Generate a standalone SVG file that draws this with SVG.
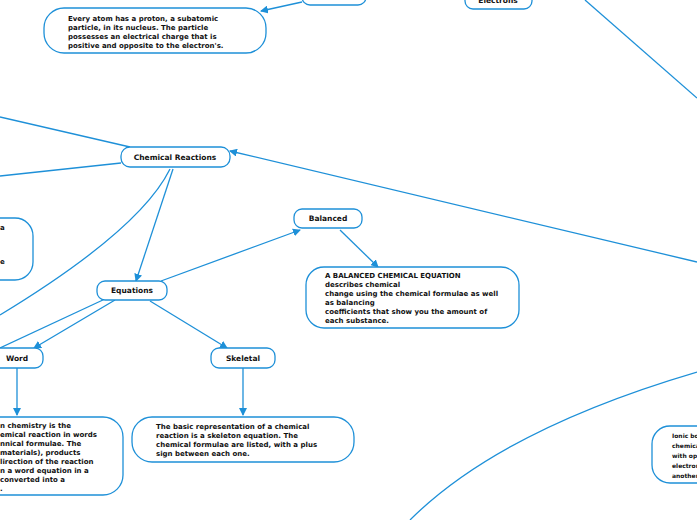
<svg xmlns="http://www.w3.org/2000/svg" width="697" height="520" viewBox="0 0 697 520">
<defs><marker id="a" markerWidth="8" markerHeight="8" refX="7" refY="4" orient="auto" markerUnits="userSpaceOnUse"><path d="M0,0 L8,4 L0,8 z" fill="#1e90d8"/></marker></defs>
<style>
.n{fill:#fff;stroke:#1e90d8;stroke-width:1.3}
.c{fill:none;stroke:#1e90d8;stroke-width:1.3}
text{font-family:Verdana,"DejaVu Sans",sans-serif;font-weight:bold;font-size:7px;fill:#111}
.l{font-size:7.5px}
</style>
<g id="connectors">
<path class="c" d="M302,2 L261,11" marker-end="url(#a)"/>
<path class="c" d="M585,0 L697,98"/>
<path class="c" d="M130,147 L0,117"/>
<path class="c" d="M121,163 L0,176"/>
<path class="c" d="M697,262 L230,151" marker-end="url(#a)"/>
<path class="c" d="M170,169 Q140,230 0,315"/>
<path class="c" d="M173,169 L136,281" marker-end="url(#a)"/>
<path class="c" d="M161,281 L300,230" marker-end="url(#a)"/>
<path class="c" d="M340,230 L378,267" marker-end="url(#a)"/>
<path class="c" d="M105,299 L0,348"/>
<path class="c" d="M115,300 L34,348" marker-end="url(#a)"/>
<path class="c" d="M150,301 L227,348" marker-end="url(#a)"/>
<path class="c" d="M17,368 L17,415" marker-end="url(#a)"/>
<path class="c" d="M243,368 L243,415" marker-end="url(#a)"/>
<path class="c" d="M697,372 Q500,430 410,520"/>
</g>
<g id="n-proton"><rect class="n" x="302" y="-12" width="64" height="17" rx="8"/></g>
<g id="n-electrons"><rect class="n" x="465" y="-10" width="67" height="19" rx="8"/><text x="498" y="3" text-anchor="middle" class="l">Electrons</text></g>
<g id="n-protondesc"><rect class="n" x="44" y="8" width="222" height="45" rx="20"/>
<text x="68" y="21">Every atom has a proton, a subatomic</text><text x="68" y="30">particle, in its nucleus. The particle</text><text x="68" y="39">possesses an electrical charge that is</text><text x="68" y="48">positive and opposite to the electron's.</text></g>
<g id="n-chem"><rect class="n" x="121" y="147" width="109" height="20" rx="9"/><text x="175" y="160" text-anchor="middle" class="l">Chemical Reactions</text></g>
<g id="n-left"><rect class="n" x="-30" y="218" width="63" height="62" rx="18"/><text x="0" y="230">a</text><text x="0" y="264">e</text></g>
<g id="n-balanced"><rect class="n" x="294" y="209" width="68" height="19" rx="8"/><text x="328" y="221" text-anchor="middle" class="l">Balanced</text></g>
<g id="n-baldesc"><rect class="n" x="306" y="267" width="213" height="61" rx="18"/>
<text x="325" y="278">A BALANCED CHEMICAL EQUATION</text><text x="325" y="287">describes chemical</text><text x="325" y="296">change using the chemical formulae as well</text><text x="325" y="305">as balancing</text><text x="325" y="314">coefficients that show you the amount of</text><text x="325" y="323">each substance.</text></g>
<g id="n-eq"><rect class="n" x="97" y="281" width="70" height="19" rx="8"/><text x="132" y="293" text-anchor="middle" class="l">Equations</text></g>
<g id="n-word"><rect class="n" x="-20" y="348" width="63" height="20" rx="8"/><text x="17" y="361" text-anchor="middle" class="l">Word</text></g>
<g id="n-skel"><rect class="n" x="211" y="348" width="64" height="20" rx="8"/><text x="243" y="361" text-anchor="middle" class="l">Skeletal</text></g>
<g id="n-worddesc"><rect class="n" x="-60" y="417" width="183" height="78" rx="20"/>
<text x="0" y="428">n chemistry is the</text><text x="0" y="437">emical reaction in words</text><text x="0" y="446">nnical formulae. The</text><text x="0" y="455">materials), products</text><text x="0" y="464">lirection of the reaction</text><text x="0" y="473">n a word equation in a</text><text x="0" y="482"> converted into a</text><text x="0" y="491">.</text></g>
<g id="n-skeldesc"><rect class="n" x="132" y="417" width="222" height="45" rx="20"/>
<text x="156" y="429">The basic representation of a chemical</text><text x="156" y="438">reaction is a skeleton equation. The</text><text x="156" y="447">chemical formulae are listed, with a plus</text><text x="156" y="456">sign between each one.</text></g>
<g id="n-ionic"><rect class="n" x="652" y="426" width="90" height="57" rx="18"/>
<text x="672" y="438" style="font-size:6px">Ionic bo</text><text x="672" y="448" style="font-size:6px">chemica</text><text x="672" y="458" style="font-size:6px">with opp</text><text x="672" y="468" style="font-size:6px">electron</text><text x="672" y="478" style="font-size:6px">another</text></g>
</svg>
